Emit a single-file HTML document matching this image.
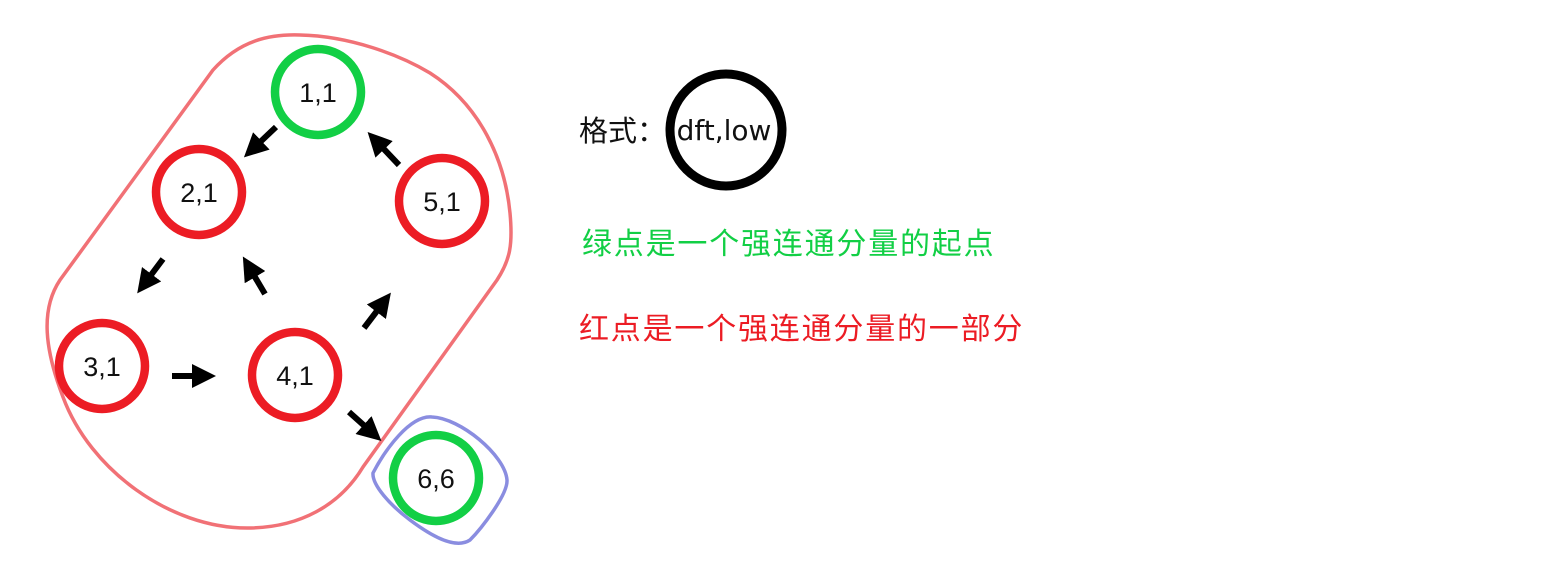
<!DOCTYPE html>
<html><head><meta charset="utf-8"><style>
html,body{margin:0;padding:0;background:#fff;width:1554px;height:576px;overflow:hidden}
svg{display:block}
</style></head><body>
<svg width="1554" height="576" viewBox="0 0 1554 576" xmlns="http://www.w3.org/2000/svg">
<defs>
<marker id="ah" markerWidth="4" markerHeight="4" refX="1" refY="2" orient="auto" markerUnits="strokeWidth">
<path d="M0,0 L4,2 L0,4 z" fill="#000"/></marker>
</defs>
<path d="M213,70 C240,40 270,34 300,35 C350,36 400,55 430,73 C480,105 505,160 510,213 C513,245 510,260 497,280 L363,467 C340,505 300,528 247,528 C170,528 90,470 63,397 C45,350 40,310 60,280 Z" fill="none" stroke="#f17176" stroke-width="3.5"/>
<path d="M373,473 C385,450 410,415 432,417 C460,418 505,455 507,480 C508,495 480,530 470,540 C455,550 430,535 410,520 C390,505 372,485 373,473 Z" fill="none" stroke="#8a8de0" stroke-width="3.5"/>
<g fill="none" stroke-width="8.5">
<circle cx="318" cy="92" r="43" stroke="#12cf45"/>
<circle cx="199" cy="192" r="43" stroke="#ec1c24"/>
<circle cx="442" cy="201" r="43" stroke="#ec1c24"/>
<circle cx="102" cy="366" r="43" stroke="#ec1c24"/>
<circle cx="295" cy="375" r="43" stroke="#ec1c24"/>
<circle cx="436" cy="478" r="43" stroke="#12cf45"/>
<circle cx="726" cy="130" r="56" stroke="#000" stroke-width="9"/>
</g>
<g stroke="#000" stroke-width="6" marker-end="url(#ah)">
<line x1="276" y1="127" x2="257" y2="145"/>
<line x1="399" y1="165" x2="380" y2="145"/>
<line x1="163" y1="259" x2="148" y2="279"/>
<line x1="265" y1="294" x2="252" y2="272"/>
<line x1="172" y1="376" x2="198" y2="376"/>
<line x1="364" y1="328" x2="380" y2="307"/>
<line x1="349" y1="412" x2="368" y2="429"/>
</g>
<g font-family="'Liberation Sans',sans-serif" font-size="27" fill="#111" text-anchor="middle">
<text x="318" y="102">1,1</text>
<text x="199" y="202">2,1</text>
<text x="442" y="211">5,1</text>
<text x="102" y="376">3,1</text>
<text x="295" y="385">4,1</text>
<text x="436" y="488">6,6</text>
</g>
<text x="579" y="141" font-family="'Liberation Sans','Noto Sans CJK SC',sans-serif" font-size="29" fill="#111">格式：</text>
<text x="724" y="140" text-anchor="middle" font-family="'DejaVu Sans','Liberation Sans',sans-serif" font-size="28" fill="#111">dft,low</text>
<text x="582" y="254" font-family="'Liberation Sans','Noto Sans CJK SC',sans-serif" font-size="30" letter-spacing="1.8" fill="#12cf45">绿点是一个强连通分量的起点</text>
<text x="579" y="339" font-family="'Liberation Sans','Noto Sans CJK SC',sans-serif" font-size="30" letter-spacing="1.8" fill="#ec1c24">红点是一个强连通分量的一部分</text>
</svg>
</body></html>
